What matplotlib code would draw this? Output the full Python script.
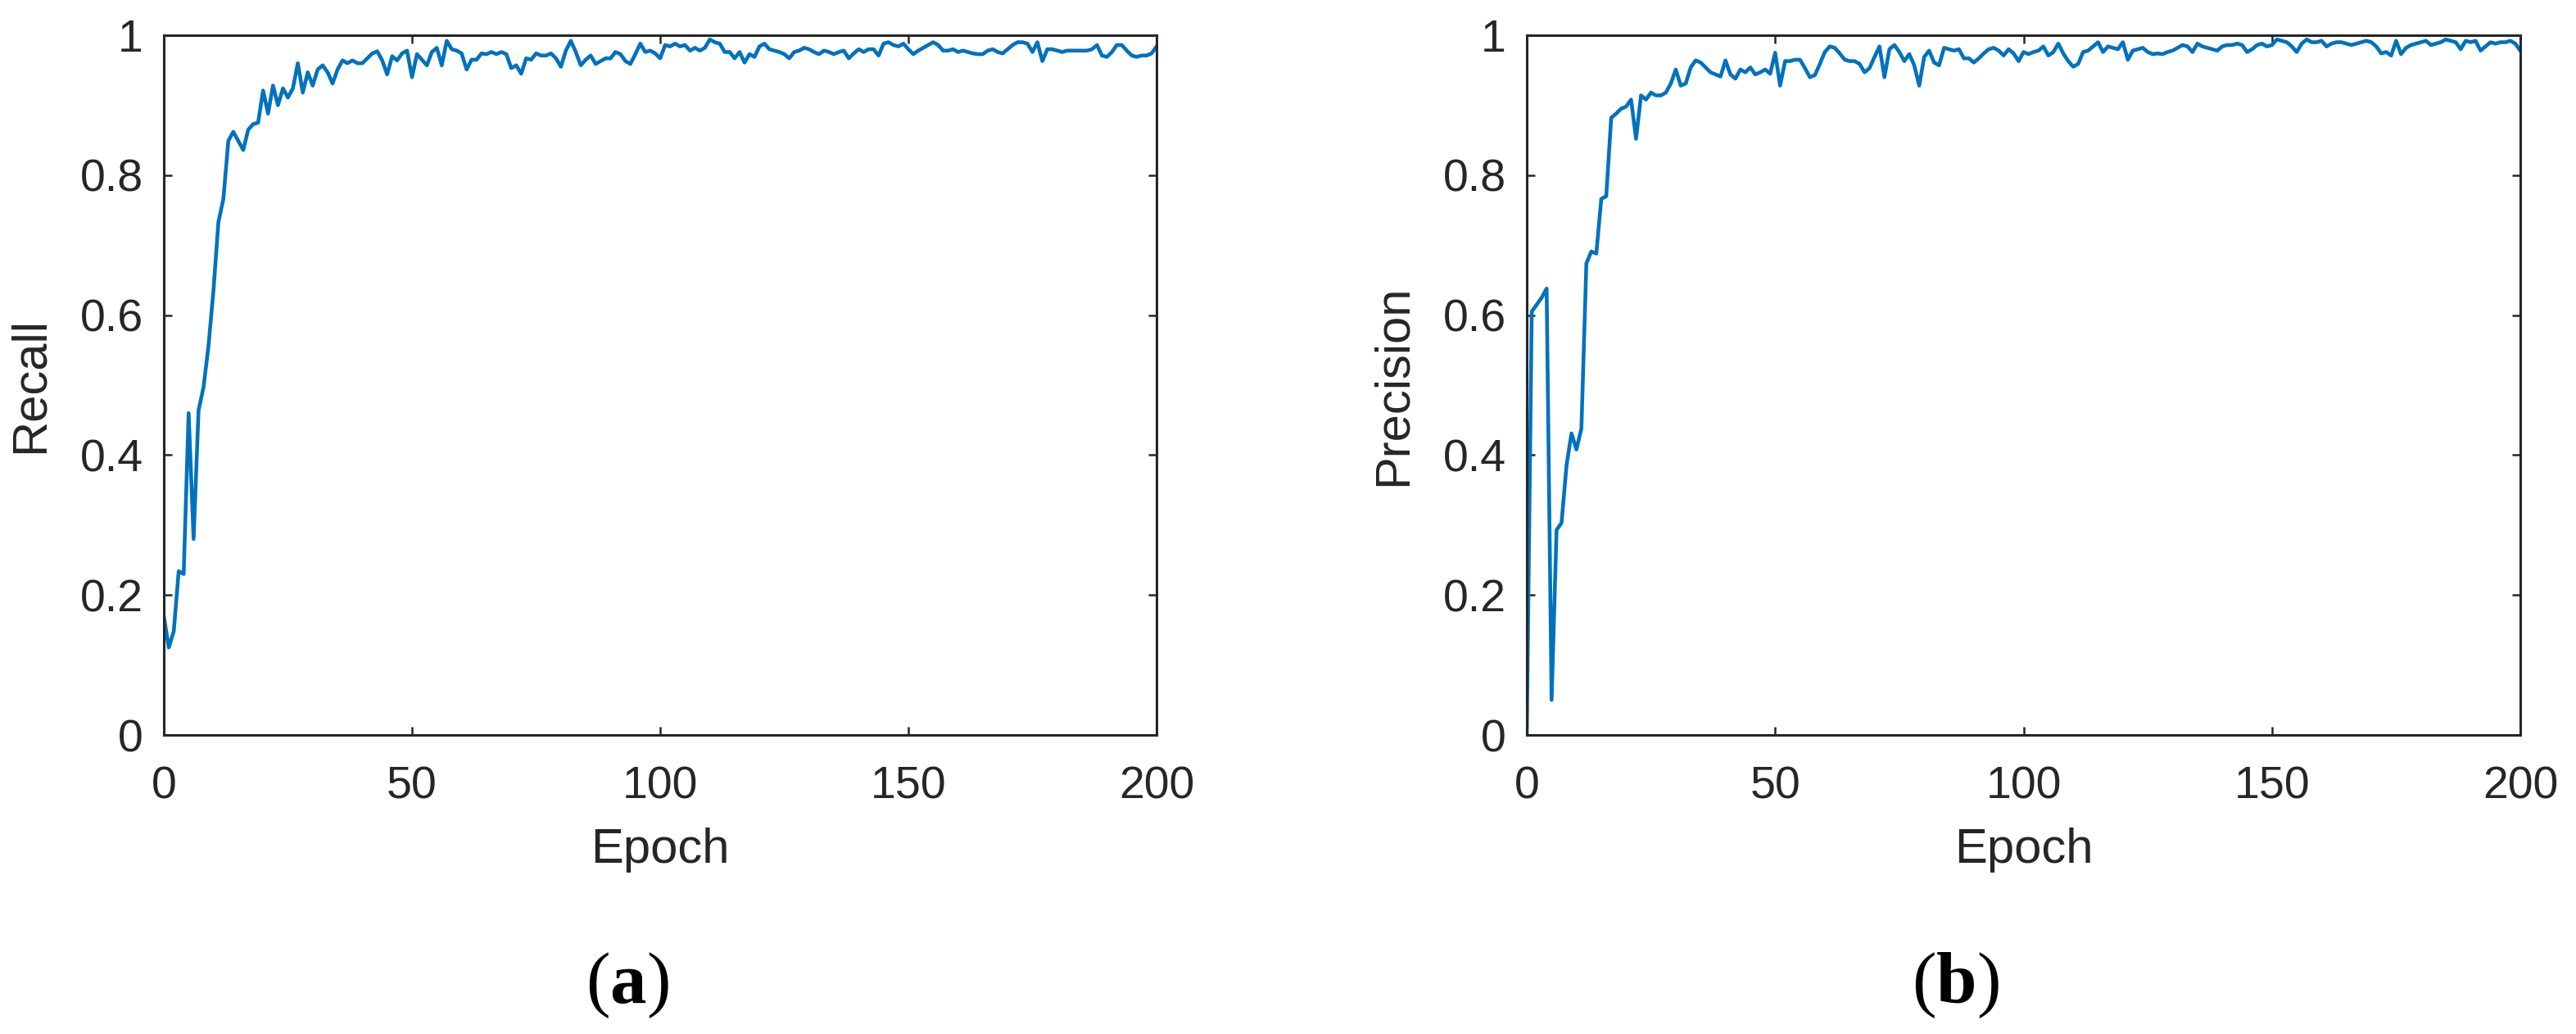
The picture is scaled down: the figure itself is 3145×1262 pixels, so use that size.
"""
Recall and precision over the training epochs, two panels side by side
"""
import numpy as np
import matplotlib
matplotlib.use("Agg")
import matplotlib.pyplot as plt

epochs = np.arange(0, 201)

recall = [
    0.17, 0.125, 0.148, 0.234, 0.23, 0.46, 0.28, 0.464, 0.497, 0.556,
    0.635, 0.733, 0.766, 0.849, 0.862, 0.849, 0.836, 0.865, 0.873, 0.875,
    0.921, 0.888, 0.928, 0.9, 0.924, 0.911, 0.924, 0.96, 0.918, 0.947,
    0.928, 0.951, 0.957, 0.947, 0.931, 0.951, 0.964, 0.96, 0.964, 0.96,
    0.96, 0.967, 0.974, 0.977, 0.964, 0.944, 0.97, 0.964, 0.974, 0.978,
    0.94, 0.973, 0.965, 0.957, 0.976, 0.982, 0.957, 0.992, 0.98, 0.978,
    0.974, 0.951, 0.965, 0.965, 0.974, 0.973, 0.976, 0.973, 0.976, 0.973,
    0.953, 0.957, 0.945, 0.967, 0.965, 0.974, 0.971, 0.971, 0.974, 0.967,
    0.955, 0.978, 0.992, 0.976, 0.957, 0.965, 0.971, 0.959, 0.963, 0.967,
    0.967, 0.976, 0.973, 0.963, 0.959, 0.973, 0.988, 0.976, 0.978, 0.974,
    0.967, 0.986, 0.984, 0.988, 0.984, 0.986, 0.978, 0.982, 0.978, 0.982,
    0.994, 0.99, 0.988, 0.976, 0.976, 0.967, 0.976, 0.961, 0.973, 0.969,
    0.984, 0.988, 0.98, 0.978, 0.976, 0.973, 0.967, 0.976, 0.978, 0.982,
    0.98, 0.976, 0.973, 0.978, 0.976, 0.973, 0.976, 0.978, 0.967, 0.974,
    0.98, 0.976, 0.98, 0.98, 0.971, 0.988, 0.99, 0.986, 0.984, 0.988,
    0.98, 0.973, 0.978, 0.982, 0.986, 0.99, 0.986, 0.978, 0.978, 0.98,
    0.976, 0.978, 0.976, 0.974, 0.973, 0.973, 0.978, 0.98, 0.976, 0.974,
    0.98, 0.986, 0.99, 0.99, 0.988, 0.976, 0.99, 0.963, 0.98, 0.98,
    0.978, 0.976, 0.978, 0.978, 0.978, 0.978, 0.978, 0.98, 0.986, 0.971,
    0.969, 0.976, 0.986, 0.986, 0.978, 0.971, 0.969, 0.971, 0.971, 0.974,
    0.984,
]

precision = [
    0.0, 0.605, 0.615, 0.625, 0.638, 0.05, 0.293, 0.303, 0.385, 0.431,
    0.408, 0.438, 0.674, 0.691, 0.688, 0.766, 0.77, 0.882, 0.888, 0.895,
    0.898, 0.908, 0.852, 0.914, 0.908, 0.918, 0.914, 0.914, 0.918, 0.931,
    0.951, 0.928, 0.931, 0.954, 0.964, 0.961, 0.954, 0.947, 0.944, 0.941,
    0.964, 0.944, 0.938, 0.951, 0.947, 0.954, 0.944, 0.947, 0.951, 0.945,
    0.975, 0.928, 0.963, 0.963, 0.965, 0.965, 0.953, 0.94, 0.943, 0.959,
    0.976, 0.984, 0.982, 0.974, 0.965, 0.963, 0.963, 0.959, 0.947, 0.953,
    0.969, 0.984, 0.94, 0.98, 0.986, 0.976, 0.963, 0.973, 0.957, 0.928,
    0.969, 0.978, 0.961, 0.957, 0.982, 0.98, 0.978, 0.98, 0.967, 0.967,
    0.961, 0.967, 0.974, 0.98, 0.982, 0.978, 0.971, 0.98, 0.974, 0.963,
    0.976, 0.973, 0.976, 0.978, 0.984, 0.971, 0.976, 0.988, 0.974, 0.963,
    0.955, 0.959, 0.976, 0.978, 0.984, 0.99, 0.976, 0.984, 0.982, 0.98,
    0.99, 0.965, 0.978, 0.98, 0.982, 0.976, 0.973, 0.974, 0.973, 0.976,
    0.978, 0.982, 0.986, 0.984, 0.976, 0.988, 0.984, 0.982, 0.98, 0.978,
    0.984, 0.986, 0.986, 0.988, 0.986, 0.976, 0.98, 0.986, 0.988, 0.984,
    0.986, 0.994, 0.992, 0.99, 0.984, 0.976, 0.988, 0.994, 0.99, 0.99,
    0.992, 0.984, 0.988, 0.99, 0.99, 0.988, 0.986, 0.988, 0.99, 0.992,
    0.99, 0.984, 0.974, 0.976, 0.971, 0.992, 0.973, 0.982, 0.986, 0.988,
    0.99, 0.992, 0.986, 0.988, 0.99, 0.994, 0.992, 0.99, 0.98, 0.992,
    0.99, 0.992, 0.978, 0.984, 0.99, 0.988, 0.99, 0.99, 0.992, 0.988,
    0.978,
]

xticks = [0, 50, 100, 150, 200]
yticks = [0, 0.2, 0.4, 0.6, 0.8, 1]
yticklabels = ["0", "0.2", "0.4", "0.6", "0.8", "1"]

panels = [("Recall", recall, "a"), ("Precision", precision, "b")]

plt.rcParams["font.family"] = ["Liberation Sans", "DejaVu Sans"]
plt.rcParams["mathtext.fontset"] = "custom"
plt.rcParams["mathtext.rm"] = "Liberation Serif"
plt.rcParams["mathtext.bf"] = "Liberation Serif:bold"

axcol = "#262626"
linecol = "#0072BD"

W, H = 3145, 1262
fig = plt.figure(figsize=(W / 100, H / 100), dpi=100)

# axes boxes in pixels: left, right, top, bottom
boxes = [(200, 1412, 43, 897), (1864, 3077, 43, 897)]
caption_x = [766, 2387]

for (ylab, vals, tag), (l, r, t, b), cx in zip(panels, boxes, caption_x):
    ax = fig.add_axes([l / W, (H - b) / H, (r - l) / W, (b - t) / H])
    ax.plot(epochs, vals, color=linecol, linewidth=3.3)

    ax.set_xlim(0, 200)
    ax.set_ylim(0, 1)
    ax.set_xticks(xticks)
    ax.set_yticks(yticks)
    ax.set_yticklabels(yticklabels)

    ax.tick_params(direction="in", length=7, width=1.8, color=axcol,
                   labelcolor=axcol, labelsize=40, top=True, right=True)
    ax.tick_params(axis="x", pad=27)
    ax.tick_params(axis="y", pad=18)
    for s in ax.spines.values():
        s.set_color(axcol)
        s.set_linewidth(2.2)

    ax.set_xlabel("Epoch", fontsize=43, color=axcol)
    ax.set_ylabel(ylab, fontsize=43, color=axcol)
    ax.xaxis.set_label_coords(0.5, -0.132)
    ax.yaxis.set_label_coords(-0.112, 0.5)

    fig.text(cx / W, 1 - 1203 / H, r"$(\mathbf{%s})$" % tag,
             fontsize=64, ha="center", va="center", color="black")

fig.savefig("out.png", dpi=100, facecolor="white")
